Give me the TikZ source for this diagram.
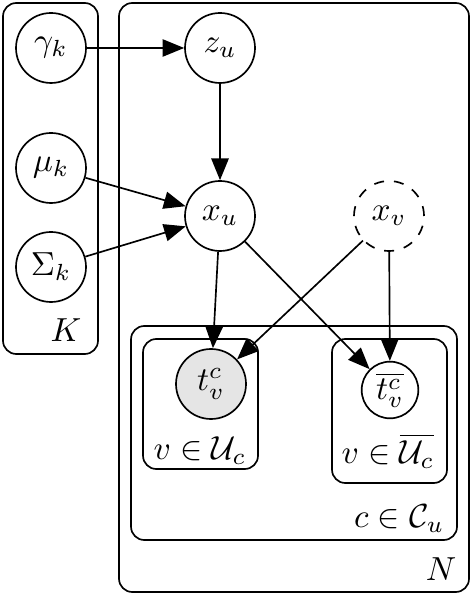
\documentclass[tikz,border=0pt]{standalone}
\usepackage{amsmath,amssymb}
\usetikzlibrary{arrows.meta}

\begin{document}
\begin{tikzpicture}[x=0.3pt,y=-0.3pt,
    latent/.style={draw,circle,minimum size=21pt,inner sep=0pt,line width=0.5pt},
    observed/.style={latent,fill=black!10},
    plate/.style={draw,rounded corners=4pt,line width=0.5pt},
    edge/.style={-{Triangle[length=6.5pt,width=5.2pt]},line width=0.5pt}]
  \useasboundingbox (0,0) rectangle (474,596);
  % Plates
  \draw[plate] (3,3) rectangle (98,354);
  \draw[plate] (119,3) rectangle (469,592);
  \draw[plate] (131,326) rectangle (457,540);
  \draw[plate] (143,339) rectangle (258,469);
  \draw[plate] (332,339) rectangle (447,483);
  % Plate labels
  \node[anchor=base east,inner sep=0pt] (lblK) at (82,342) {$K$};
  \node[anchor=base east,inner sep=0pt] (lblN) at (457,580) {$N$};
  \node[anchor=base east,inner sep=0pt] (lblC) at (445,527) {$c \in \mathcal{C}_u$};
  \node[anchor=base,inner sep=0pt] (lblU) at (200,459) {$v \in \mathcal{U}_c$};
  \node[anchor=base,inner sep=0pt] (lblUbar) at (388,463) {$v \in \overline{\mathcal{U}_c}$};
  % Variables
  \node[latent] (gamma) at (51,48) {$\gamma_k$};
  \node[latent] (mu) at (51,168) {$\mu_k$};
  \node[latent] (sigma) at (51,267) {$\Sigma_k$};
  \node[latent] (zu) at (220,48) {$z_u$};
  \node[latent] (xu) at (220,216) {$x_u$};
  \node[latent,dashed] (xv) at (389,216) {$x_v$};
  \node[observed] (t) at (211,384) {$t_v^c$};
  \node[latent,minimum size=17pt] (tbar) at (390,390) {$\overline{t_v^c}$};
  % Edges
  \draw[edge] (gamma) -- (zu);
  \draw[edge] (zu) -- (xu);
  \draw[edge] (mu) -- (xu);
  \draw[edge] (sigma) -- (xu);
  \draw[edge] (xu) -- (t);
  \draw[edge] (xu) -- (tbar);
  \draw[edge] (xv) -- (t);
  \draw[edge] (xv) -- (tbar);
\end{tikzpicture}
\end{document}
